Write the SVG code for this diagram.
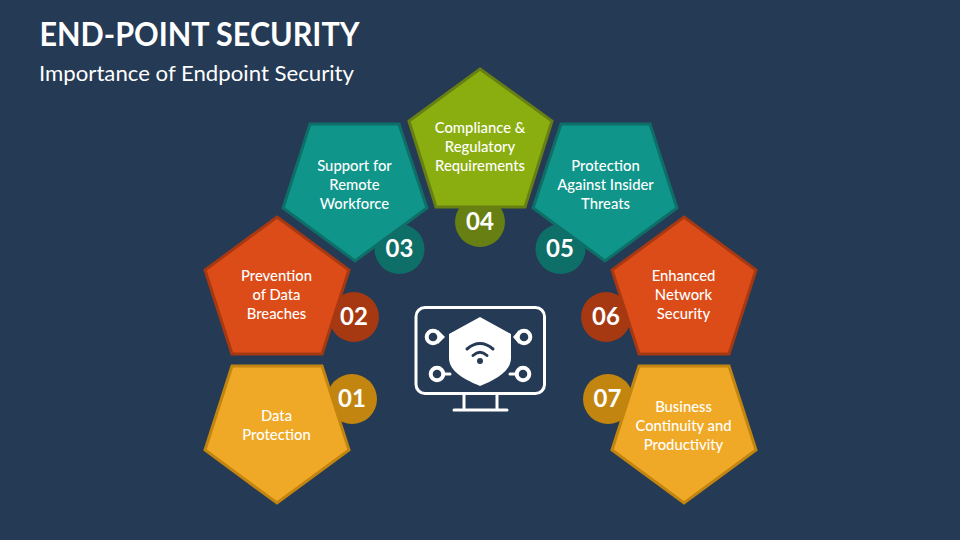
<svg xmlns="http://www.w3.org/2000/svg" width="960" height="540" viewBox="0 0 960 540">
<style>
.p{stroke-width:3;stroke-linejoin:miter}
.o{fill:#EFA927;stroke:#C2850F}.r{fill:#DC4C18;stroke:#A63812}.t{fill:#10958A;stroke:#0E6E68}.g{fill:#8AAE10;stroke:#688013}
text{font-family:"Lato","Open Sans","Liberation Sans",sans-serif;fill:#fff;text-anchor:middle}
.l{font-size:14.800px;font-weight:500}
.n{font-size:24px;font-weight:700}
.w{fill:none;stroke:#fff;stroke-width:3;stroke-linecap:round;stroke-linejoin:round}
.c{fill:none;stroke:#fff;stroke-width:4}
.f{fill:#fff}
</style>
<rect width="960" height="540" fill="#253A54"/>
<text id="title" x="39.500" y="46" style="text-anchor:start;font-size:32px;font-weight:700" textLength="320" lengthAdjust="spacingAndGlyphs">END-POINT SECURITY</text>
<text id="subtitle" x="39" y="80.500" style="text-anchor:start;font-size:21px" textLength="315" lengthAdjust="spacingAndGlyphs">Importance of Endpoint Security</text>
<g id="node-01"><circle cx="352" cy="399" r="25" fill="#C2850F"/><polygon class="p o" points="232,366 322,366 349,450 277,503 205,450"/><text class="n" x="352" y="407">01</text><text class="l" x="276.500" y="421">Data</text><text class="l" x="276.500" y="440">Protection</text></g>
<g id="node-02"><circle cx="354" cy="317" r="25" fill="#A63812"/><polygon class="p r" points="277,217 349,270 322,354 232,354 205,270"/><text class="n" x="354" y="325">02</text><text class="l" x="276.500" y="281">Prevention</text><text class="l" x="276.500" y="300">of Data</text><text class="l" x="276.500" y="319">Breaches</text></g>
<g id="node-03"><circle cx="399.500" cy="249" r="25" fill="#0E6E68"/><polygon class="p t" points="310,124 399,124 427,208 355,261 283,208"/><text class="n" x="399.500" y="257">03</text><text class="l" x="354.500" y="171">Support for</text><text class="l" x="354.500" y="190">Remote</text><text class="l" x="354.500" y="209">Workforce</text></g>
<g id="node-04"><circle cx="480" cy="222" r="25" fill="#688013"/><polygon class="p g" points="480,69 552,121 525,207 436,207 409,121"/><text class="n" x="480" y="230">04</text><text class="l" x="480" y="133">Compliance &amp;</text><text class="l" x="480" y="152">Regulatory</text><text class="l" x="480" y="171">Requirements</text></g>
<g id="node-05"><circle cx="560.500" cy="249" r="25" fill="#0E6E68"/><polygon class="p t" points="561,124 650,124 677,208 605,261 533,208"/><text class="n" x="560" y="257">05</text><text class="l" x="605.500" y="171">Protection</text><text class="l" x="605.500" y="190">Against Insider</text><text class="l" x="605.500" y="209">Threats</text></g>
<g id="node-06"><circle cx="606" cy="317" r="25" fill="#A63812"/><polygon class="p r" points="684,217 756,270 729,354 639,354 612,270"/><text class="n" x="606" y="325">06</text><text class="l" x="683.500" y="281">Enhanced</text><text class="l" x="683.500" y="300">Network</text><text class="l" x="683.500" y="319">Security</text></g>
<g id="node-07"><circle cx="608" cy="399" r="25" fill="#C2850F"/><polygon class="p o" points="639,366 729,366 756,450 684,503 612,450"/><text class="n" x="607.500" y="407">07</text><text class="l" x="683.500" y="412">Business</text><text class="l" x="683.500" y="431">Continuity and</text><text class="l" x="683.500" y="450">Productivity</text></g>
<g id="icon">
<rect class="w" x="416" y="307.500" width="128.500" height="86" rx="9"/>
<path class="w" d="M464 394V410M497 394V410M454 410H507"/>
<path class="f" d="M480 317L511 334V358C511 372 494 380 480 386C466 380 449 372 449 358V334Z"/>
<path d="M467 349Q480 338 493 349M473 355.500Q480 349 487 355.500" fill="none" stroke="#253A54" stroke-width="3" stroke-linecap="round"/>
<circle cx="480" cy="361" r="3" fill="#253A54"/>
<circle class="c" cx="433" cy="337" r="6.300"/><path class="f" d="M438 330L445 337L438 344Z"/>
<circle class="c" cx="437" cy="374" r="6.300"/><path class="w" d="M443 374H450"/>
<circle class="c" cx="524" cy="337" r="6.300"/><path class="f" d="M519 330L513 337L519 344Z"/>
<circle class="c" cx="523" cy="374" r="6.300"/><path class="w" d="M517 374H510"/>
</g>
<g id="connectors"></g>
</svg>
